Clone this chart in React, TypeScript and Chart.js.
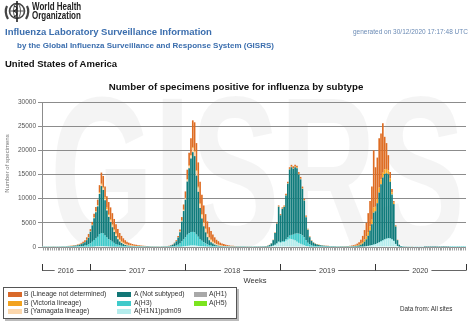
import React, { useEffect, useRef } from "react";
import { Chart, registerables } from "chart.js";
Chart.register(...registerables);

const FONT = '"Liberation Sans", Arial, Helvetica, sans-serif';

// x axis: ISO weeks, Jul 2016 – Dec 2020
const YEARS = ["2016", "2017", "2018", "2019", "2020"];
const FIRST_WEEK = [27, 1, 1, 1, 1];
const WEEK_COUNT = [26, 52, 52, 52, 50];

const Y_MAX = 30000;
const Y_STEP = 5000;

// A(H1N1)pdm09
const H1N1PDM09 = [
  5, 5, 4, 4, 3, 4, 3, 4, 4, 5, 5, 6, 6, 7, 8, 8, 9, 10, 11, 13, 15, 18, 22, 26, 34, 45,
  60, 80, 110, 130, 150, 180, 200, 190, 160, 140, 120, 100, 90, 70, 55, 45, 35, 28, 22, 18, 15, 12, 10, 9, 8, 7,
  6, 5, 5, 4, 4, 3, 3, 3, 3, 3, 3, 3, 3, 3, 3, 4, 4, 5,
  8, 12, 18, 25, 40, 60, 100, 140, 180, 230, 270, 300, 320, 300, 260, 220, 180, 150, 130, 110, 90, 75, 60, 50, 40, 32, 26, 20, 16, 13, 11, 9, 8, 7, 6, 5,
  10, 10, 10, 10, 10, 10, 11, 11, 12, 13, 15, 17, 20, 23, 27, 32, 40, 55, 80, 130, 230, 420, 650, 1000,
  850, 1000, 1050, 1300, 1500, 1700, 1650, 1500, 1350, 1100, 850, 650, 480, 340, 220, 130, 80, 50, 35, 26, 20, 16, 13, 11, 10, 9, 8, 7, 6, 6, 6, 6, 6, 7, 8, 9, 11, 13, 15, 18,
  22, 28, 35, 45, 60, 80, 110, 150, 200, 270, 350, 450, 550, 700, 900, 1100, 1300, 1500, 1650, 1750, 1700, 1500, 1200, 600, 200, 60, 20, 10,
  5, 4, 3, 2, 2, 1, 1, 1, 1, 1, 1, 0, 0, 0, 0, 0, 0, 0, 0, 0, 0, 0, 0, 0, 0, 0, 0, 0, 0, 0, 0, 0, 0, 0,
];

// A(H3)
const H3 = [
  15, 14, 12, 12, 11, 12, 11, 12, 14, 15, 17, 20, 24, 30, 35, 42, 50, 60, 75, 95, 120, 160, 210, 270, 380, 520,
  700, 1000, 1350, 1650, 1950, 2500, 2700, 2600, 2200, 1800, 1500, 1250, 1000, 780, 580, 420, 300, 220, 160, 120, 90, 70, 55, 45, 38, 32,
  40, 35, 30, 28, 25, 22, 20, 20, 20, 20, 20, 22, 24, 26, 28, 32, 36, 45,
  70, 110, 180, 270, 430, 650, 1050, 1400, 1800, 2300, 2600, 2800, 2800, 2700, 2300, 1900, 1500, 1150, 850, 620, 450, 330, 240, 170, 120, 85, 65, 48, 38, 30, 24, 20, 17, 15, 13, 11,
  25, 24, 22, 20, 18, 16, 15, 13, 12, 11, 11, 11, 11, 11, 11, 12, 13, 15, 18, 25, 35, 55, 80, 120,
  110, 150, 200, 300, 450, 650, 850, 1050, 1400, 1700, 1900, 2000, 1900, 1650, 1200, 750, 450, 280, 200, 150, 120, 100, 85, 72, 64, 55, 48, 42, 38, 34, 30, 26, 22, 18, 15, 13, 12, 12, 12, 12,
  12, 12, 13, 15, 18, 20, 25, 30, 35, 40, 45, 50, 55, 60, 65, 70, 75, 80, 85, 90, 90, 85, 75, 40, 15, 5, 2, 1,
  1, 1, 1, 1, 1, 1, 1, 0, 0, 0, 0, 0, 0, 0, 0, 0, 0, 0, 0, 0, 0, 0, 0, 0, 0, 1, 1, 1, 1, 1, 1, 1, 1, 1,
];

// A (Not subtyped)
const A_NOT_SUBTYPED = [
  55, 50, 46, 46, 42, 46, 42, 46, 50, 55, 60, 70, 80, 95, 110, 125, 145, 170, 205, 255, 325, 425, 550, 700, 1000, 1350,
  2400, 3400, 4500, 5400, 6300, 8300, 9700, 9000, 7300, 5600, 4600, 3800, 3000, 2250, 1650, 1150, 800, 580, 420, 300, 230, 180, 150, 120, 100, 90,
  120, 105, 90, 78, 70, 62, 56, 54, 52, 50, 48, 48, 50, 55, 60, 70, 80, 100,
  210, 340, 560, 880, 1480, 2350, 4100, 5900, 7800, 11000, 13400, 15200, 16500, 15800, 12200, 9300, 6400, 4600, 3300, 2300, 1500, 1000, 700, 480, 330, 230, 170, 125, 100, 80, 65, 55, 46, 40, 35, 30,
  60, 58, 55, 52, 50, 48, 50, 48, 50, 52, 58, 60, 66, 72, 80, 93, 122, 180, 300, 580, 1150, 2400, 4100, 7200,
  5600, 6750, 7030, 9050, 11150, 13700, 14000, 13650, 13750, 13500, 12250, 11350, 9650, 7600, 4750, 2700, 1500, 930, 650, 480, 380, 310, 255, 215, 186, 160, 140, 126, 112, 105, 98, 90, 82, 78, 74, 74, 78, 85, 90, 100,
  120, 150, 200, 270, 400, 600, 950, 1400, 2100, 3100, 4300, 6600, 6800, 8300, 10300, 11800, 13000, 13500, 13500, 13200, 11700, 9300, 7600, 3600, 1200, 400, 160, 80,
  50, 40, 32, 25, 21, 17, 15, 14, 12, 11, 10, 10, 10, 9, 9, 8, 8, 8, 9, 9, 10, 10, 10, 11, 11, 11, 12, 12, 12, 13, 13, 13, 14, 14,
];

// B (Yamagata lineage)
const B_YAMAGATA = [
  10, 9, 8, 8, 8, 8, 8, 8, 9, 10, 10, 11, 12, 13, 14, 15, 16, 17, 18, 20, 22, 25, 28, 32, 40, 50,
  60, 80, 100, 120, 150, 200, 300, 330, 330, 340, 350, 360, 350, 340, 320, 290, 260, 220, 180, 150, 120, 100, 85, 70, 60, 50,
  40, 35, 30, 26, 23, 20, 18, 16, 15, 14, 13, 12, 11, 11, 12, 12, 13, 15,
  15, 22, 35, 50, 70, 100, 160, 220, 280, 380, 480, 600, 800, 900, 900, 850, 800, 750, 700, 640, 580, 500, 430, 360, 290, 220, 170, 130, 105, 85, 68, 55, 45, 38, 32, 26,
  15, 14, 13, 12, 11, 10, 9, 8, 7, 6, 6, 5, 5, 5, 5, 5, 5, 5, 6, 7, 8, 10, 12, 15,
  15, 20, 20, 25, 30, 35, 40, 40, 40, 40, 40, 40, 35, 30, 25, 20, 15, 12, 10, 8, 7, 6, 5, 5, 4, 4, 4, 4, 3, 3, 3, 3, 3, 3, 3, 3, 3, 3, 3, 3,
  3, 3, 3, 3, 4, 4, 5, 5, 6, 7, 8, 10, 10, 10, 12, 12, 12, 12, 12, 10, 10, 8, 6, 4, 2, 1, 0, 0,
  0, 0, 0, 0, 0, 0, 0, 0, 0, 0, 0, 0, 0, 0, 0, 0, 0, 0, 0, 0, 0, 0, 0, 0, 0, 0, 0, 0, 0, 0, 0, 0, 0, 0,
];

// B (Victoria lineage)
const B_VICTORIA = [
  8, 8, 8, 8, 7, 8, 7, 8, 8, 9, 10, 10, 11, 12, 13, 14, 15, 16, 17, 19, 22, 25, 28, 32, 40, 50,
  60, 70, 90, 110, 130, 170, 200, 220, 230, 230, 240, 240, 230, 220, 200, 180, 160, 140, 120, 100, 80, 70, 60, 50, 42, 36,
  32, 28, 24, 21, 18, 16, 14, 13, 12, 11, 10, 10, 9, 9, 9, 10, 10, 12,
  5, 8, 12, 15, 20, 30, 50, 70, 90, 110, 130, 150, 180, 200, 200, 190, 180, 170, 160, 150, 140, 120, 100, 85, 70, 55, 45, 35, 28, 22, 18, 15, 12, 10, 9, 8,
  15, 14, 13, 12, 11, 10, 10, 9, 9, 9, 10, 10, 10, 10, 10, 10, 10, 11, 12, 15, 20, 25, 30, 40,
  45, 50, 55, 65, 70, 80, 85, 90, 90, 95, 95, 95, 90, 85, 75, 60, 45, 35, 28, 22, 18, 16, 14, 13, 12, 11, 10, 10, 10, 10, 11, 12, 13, 15, 17, 20, 24, 29, 35, 42,
  55, 75, 105, 150, 220, 320, 450, 600, 750, 850, 950, 1050, 900, 900, 1000, 1000, 1000, 950, 900, 800, 650, 450, 300, 120, 30, 10, 4, 2,
  2, 1, 1, 1, 1, 1, 1, 1, 1, 1, 1, 1, 1, 1, 1, 1, 1, 1, 1, 1, 1, 1, 1, 1, 1, 1, 1, 1, 1, 1, 1, 1, 1, 1,
];

// B (Lineage not determined)
const B_NOT_DETERMINED = [
  27, 24, 22, 22, 19, 22, 19, 22, 25, 26, 28, 33, 37, 43, 50, 56, 65, 77, 94, 118, 146, 197, 262, 340, 506, 685,
  420, 570, 750, 890, 1120, 1450, 2300, 2360, 2280, 2390, 2490, 2450, 2330, 2140, 1895, 1615, 1345, 1112, 898, 712, 565, 468, 390, 326, 272, 235,
  162, 142, 121, 103, 90, 77, 69, 64, 58, 52, 46, 45, 43, 46, 48, 52, 57, 73,
  42, 58, 95, 160, 260, 410, 740, 1070, 1350, 1980, 2620, 3450, 5600, 5900, 5640, 5040, 4440, 3980, 3460, 2980, 2540, 2075, 1770, 1455, 1150, 878, 724, 542, 463, 370, 294, 246, 202, 170, 145, 120,
  55, 50, 47, 44, 40, 36, 35, 31, 30, 29, 30, 27, 28, 29, 27, 28, 30, 34, 34, 43, 57, 90, 128, 225,
  180, 230, 245, 260, 300, 335, 375, 370, 370, 365, 365, 365, 345, 295, 230, 140, 110, 93, 77, 64, 55, 52, 48, 44, 44, 41, 40, 41, 41, 42, 42, 43, 44, 49, 53, 61, 72, 88, 105, 125,
  168, 232, 344, 517, 798, 1276, 1960, 2815, 3909, 5233, 6847, 11840, 8185, 8530, 10223, 9518, 10213, 6758, 5353, 3150, 1350, 657, 319, 136, 53, 24, 14, 7,
  12, 9, 8, 6, 5, 5, 4, 4, 4, 3, 3, 3, 3, 3, 3, 3, 3, 3, 3, 3, 3, 3, 4, 4, 4, 4, 4, 4, 5, 5, 5, 6, 6, 6,
];

const SERIES = [
  { name: "A(H1N1)pdm09", color: "#B4ECEC", data: H1N1PDM09 },
  { name: "A(H3)", color: "#3FCACA", data: H3 },
  { name: "A (Not subtyped)", color: "#0F7B7B", data: A_NOT_SUBTYPED },
  { name: "B (Yamagata lineage)", color: "#FCD7AC", data: B_YAMAGATA },
  { name: "B (Victoria lineage)", color: "#F5A623", data: B_VICTORIA },
  { name: "B (Lineage not determined)", color: "#DE6C22", data: B_NOT_DETERMINED },
];

const LEGEND_COLS = [
  [
    { name: "B (Lineage not determined)", color: "#D9692A" },
    { name: "B (Victoria lineage)", color: "#F2A21E" },
    { name: "B (Yamagata lineage)", color: "#FCD7AC" },
  ],
  [
    { name: "A (Not subtyped)", color: "#127676" },
    { name: "A(H3)", color: "#3FCACA" },
    { name: "A(H1N1)pdm09", color: "#B4ECEC" },
  ],
  [
    { name: "A(H1)", color: "#A8A8A8" },
    { name: "A(H5)", color: "#7BE41E" },
  ],
];

const LABELS: string[] = [];
YEARS.forEach((y, k) => {
  for (let w = 0; w < WEEK_COUNT[k]; w++) LABELS.push(`${y}-W${FIRST_WEEK[k] + w}`);
});

const watermarkPlugin = {
  id: "watermark",
  beforeDraw(chart: any) {
    const ctx = chart.ctx;
    ctx.save();
    ctx.fillStyle = "rgba(0,0,0,0.045)";
    ctx.font = `bold 215px ${FONT}`;
    ctx.textBaseline = "alphabetic";
    ctx.translate(50, 247);
    ctx.scale(0.62, 1);
    ctx.fillText("GISRS", 0, 0);
    ctx.restore();
  },
};

const axisPlugin = {
  id: "yearAxis",
  afterDraw(chart: any) {
    const ctx = chart.ctx;
    const xs = chart.scales.x;
    const area = chart.chartArea;
    const half = (xs.getPixelForValue(1) - xs.getPixelForValue(0)) / 2;
    ctx.save();
    // weekly minor ticks
    ctx.strokeStyle = "#a0a0a0";
    ctx.lineWidth = 1;
    ctx.beginPath();
    for (let i = 0; i < LABELS.length; i++) {
      const x = Math.round(xs.getPixelForValue(i)) + 0.5;
      ctx.moveTo(x, area.bottom + 0.5);
      ctx.lineTo(x, area.bottom + 3.5);
    }
    ctx.stroke();

    // year bracket axis
    const bounds: number[] = [];
    let start = 0;
    for (let k = 0; k < YEARS.length; k++) {
      bounds.push(xs.getPixelForValue(start) - half);
      start += WEEK_COUNT[k];
    }
    bounds.push(xs.getPixelForValue(start - 1) + half);
    const ly = 270.5;
    ctx.strokeStyle = "#666";
    ctx.beginPath();
    ctx.moveTo(bounds[0], ly);
    ctx.lineTo(bounds[bounds.length - 1], ly);
    ctx.stroke();
    ctx.strokeStyle = "#333";
    ctx.beginPath();
    bounds.forEach((b) => {
      const x = Math.round(b) + 0.5;
      ctx.moveTo(x, 264);
      ctx.lineTo(x, ly);
    });
    ctx.stroke();
    ctx.font = `7.3px ${FONT}`;
    ctx.textAlign = "center";
    ctx.textBaseline = "middle";
    YEARS.forEach((y, k) => {
      const cx = (bounds[k] + bounds[k + 1]) / 2;
      const w = ctx.measureText(y).width;
      ctx.fillStyle = "#fff";
      ctx.fillRect(cx - w / 2 - 3, ly - 4, w + 6, 8);
      ctx.fillStyle = "#444";
      ctx.fillText(y, cx, ly);
    });
    ctx.font = `7.6px ${FONT}`;
    ctx.fillStyle = "#333";
    ctx.fillText("Weeks", 255, 281);

    // y axis title
    ctx.translate(7, 163.5);
    ctx.rotate(-Math.PI / 2);
    ctx.font = `6px ${FONT}`;
    ctx.fillStyle = "#777";
    ctx.fillText("Number of specimens", 0, 0);
    ctx.restore();
  },
};

function Txt(props: any) {
  const { x, cy, size, bold, color, children, align, sx } = props;
  const tr: string[] = [];
  if (align === "center") tr.push("translateX(-50%)");
  if (sx) tr.push(`scaleX(${sx})`);
  return (
    <div
      style={{
        position: "absolute",
        left: x,
        top: cy - size * 0.49,
        fontSize: size,
        lineHeight: 1,
        fontWeight: bold ? "bold" : "normal",
        color,
        whiteSpace: "nowrap",
        fontFamily: FONT,
        transform: tr.length ? tr.join(" ") : undefined,
        transformOrigin: "left center",
      }}
    >
      {children}
    </div>
  );
}

export default function App() {
  const ref = useRef<HTMLCanvasElement | null>(null);

  useEffect(() => {
    const canvas = ref.current;
    if (!canvas) return;
    const chart = new Chart(canvas, {
      type: "bar",
      data: {
        labels: LABELS,
        datasets: SERIES.map((s) => ({
          label: s.name,
          data: s.data,
          backgroundColor: s.color,
          borderWidth: 0,
          categoryPercentage: 1,
          barPercentage: 0.9,
        })),
      },
      options: {
        animation: false,
        responsive: false,
        devicePixelRatio: 1,
        events: [],
        layout: { padding: { left: 0, right: 8, top: 102, bottom: 75 } },
        plugins: {
          legend: { display: false },
          tooltip: { enabled: false },
          title: { display: false },
        },
        scales: {
          x: { stacked: true, display: false },
          y: {
            stacked: true,
            min: 0,
            max: Y_MAX,
            ticks: {
              stepSize: Y_STEP,
              font: { size: 6.5, family: FONT },
              color: "#555",
              padding: 2,
              callback: (v: any) => String(v),
            },
            grid: { color: "#8c8c8c", tickLength: 4, lineWidth: 1 },
            border: { color: "#8c8c8c" },
            afterFit: (s: any) => {
              s.width = 42;
            },
          },
        },
      } as any,
      plugins: [watermarkPlugin, axisPlugin],
    });
    return () => chart.destroy();
  }, []);

  const blue = "#3B6EAE";
  const rowsY = [294.5, 303, 311.5];
  const colX = [
    { sw: 8, tx: 24, w: 14 },
    { sw: 117, tx: 134, w: 14 },
    { sw: 194, tx: 209, w: 13 },
  ];

  return (
    <div
      style={{
        position: "absolute",
        left: 0,
        top: 0,
        width: 474,
        height: 322,
        background: "#fff",
        overflow: "hidden",
        fontFamily: FONT,
      }}
    >
      <canvas ref={ref} width={474} height={322} style={{ position: "absolute", left: 0, top: 0 }} />

      <svg width={30} height={23} style={{ position: "absolute", left: 2, top: 0 }}>
        <path d="M5 6 Q2 12 6 19 M25 6 Q28 12 24 19" fill="none" stroke="#444" strokeWidth={2.2} />
        <circle cx={15} cy={11} r={7.5} fill="none" stroke="#444" strokeWidth={1.6} />
        <ellipse cx={15} cy={11} rx={3.5} ry={7.5} fill="none" stroke="#555" strokeWidth={1} />
        <line x1={7.5} y1={11} x2={22.5} y2={11} stroke="#555" strokeWidth={1} />
        <line x1={15} y1={1} x2={15} y2={22} stroke="#222" strokeWidth={1.6} />
        <path d="M12 6 Q18 8 12 11 Q18 14 12 17" fill="none" stroke="#222" strokeWidth={1.2} />
      </svg>
      <Txt x={32} cy={7} size={10} bold color="#222" sx={0.8}>World Health</Txt>
      <Txt x={32} cy={15.5} size={10} bold color="#222" sx={0.8}>Organization</Txt>

      <Txt x={5} cy={32} size={9.5} bold color={blue}>Influenza Laboratory Surveillance Information</Txt>
      <Txt x={353} cy={32} size={6.5} color="#6B8BB5">generated on 30/12/2020 17:17:48 UTC</Txt>
      <Txt x={17} cy={46} size={8} bold color={blue}>by the Global Influenza Surveillance and Response System (GISRS)</Txt>
      <Txt x={5} cy={64} size={9.5} bold color="#111">United States of America</Txt>
      <Txt x={236} cy={87} size={9.7} bold color="#111" align="center">
        Number of specimens positive for influenza by subtype
      </Txt>

      <div
        style={{
          position: "absolute",
          left: 3,
          top: 287,
          width: 232,
          height: 30,
          border: "1px solid #555",
          boxShadow: "2px 2px 0 #bbb",
          background: "#fff",
        }}
      />
      {LEGEND_COLS.map((col, c) =>
        col.map((item, r) => (
          <React.Fragment key={item.name}>
            <div
              style={{
                position: "absolute",
                left: colX[c].sw,
                top: rowsY[r] - 2.5,
                width: colX[c].w,
                height: 5,
                background: item.color,
              }}
            />
            <Txt x={colX[c].tx} cy={rowsY[r]} size={6.8} color="#333">{item.name}</Txt>
          </React.Fragment>
        ))
      )}
      <Txt x={400} cy={309} size={6.3} color="#333">Data from: All sites</Txt>
    </div>
  );
}
